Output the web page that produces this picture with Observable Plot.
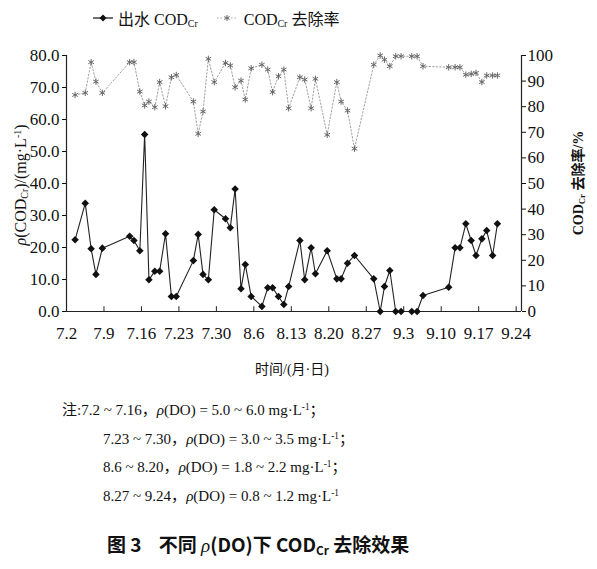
<!DOCTYPE html>
<html>
<head>
<meta charset="utf-8">
<script src="https://cdn.jsdelivr.net/npm/d3@7"></script>
<script src="https://cdn.jsdelivr.net/npm/@observablehq/plot@0.6"></script>
<style>
  html, body { margin: 0; padding: 0; background: #fff; }
  #page { position: relative; width: 597px; height: 569px; overflow: hidden; background: #fff;
          font-family: "Liberation Serif", "Noto Sans CJK SC", serif; color: #111; }
  .abs { position: absolute; white-space: nowrap; }
  sub { font-size: 0.62em; vertical-align: -0.25em; line-height: 0; }
  sup { font-size: 0.62em; vertical-align: 0.5em; line-height: 0; }
  .rot { transform: translate(-50%, -50%) rotate(-90deg); }
  #chart { position: absolute; left: 0; top: 40px; }
  #chart svg text { font-family: "Liberation Serif", serif !important; }
</style>
</head>
<body>
<div id="page">
  <div class="abs" id="legend" style="left:92px; top:6px; font-size:16px; display:flex; align-items:center;">
    <svg width="22" height="12" style="margin-right:4px"><line x1="1" y1="6" x2="21" y2="6" stroke="#222" stroke-width="1.3"/><path d="M11,2.5 L14.5,6 L11,9.5 L7.5,6 Z" fill="#111"/></svg>
    <span>出水 COD<sub>Cr</sub></span>
    <svg width="22" height="12" style="margin-left:18px;margin-right:6px"><line x1="1" y1="6" x2="21" y2="6" stroke="#aaa" stroke-width="1" stroke-dasharray="1.5,2"/><g stroke="#666" stroke-width="1"><line x1="11" y1="3" x2="11" y2="9"/><line x1="8.4" y1="4.5" x2="13.6" y2="7.5"/><line x1="8.4" y1="7.5" x2="13.6" y2="4.5"/></g></svg>
    <span>COD<sub>Cr</sub> 去除率</span>
  </div>
  <div id="chart"></div>
  <div class="abs rot" style="left:21px; top:185px; font-size:16px;"><i>ρ</i>(COD<sub>Cr</sub>)/(mg·L<sup>-1</sup>)</div>
  <div class="abs rot" style="left:577px; top:183px; font-size:14px; font-weight:bold;">COD<sub>Cr</sub> 去除率/%</div>
  <div class="abs" style="left:292px; top:368px; transform:translate(-50%,-50%); font-size:14px;">时间/(月·日)</div>
  <div class="abs" style="left:62px; top:396px; font-size:15px; line-height:28.5px;">
    <div>注:7.2 ~ 7.16，<i>ρ</i>(DO) = 5.0 ~ 6.0 mg·L<sup>-1</sup>；</div>
    <div style="padding-left:41px">7.23 ~ 7.30，<i>ρ</i>(DO) = 3.0 ~ 3.5 mg·L<sup>-1</sup>；</div>
    <div style="padding-left:41px">8.6 ~ 8.20，<i>ρ</i>(DO) = 1.8 ~ 2.2 mg·L<sup>-1</sup>；</div>
    <div style="padding-left:41px">8.27 ~ 9.24，<i>ρ</i>(DO) = 0.8 ~ 1.2 mg·L<sup>-1</sup></div>
  </div>
  <div class="abs" style="left:107px; top:530px; font-size:19px; font-weight:bold; font-family:'Noto Sans CJK SC', 'Noto Sans', sans-serif;">图 3&nbsp;&nbsp;&nbsp;&nbsp;不同 <i style="font-family:'Liberation Serif',serif;font-weight:normal">ρ</i>(DO)下 COD<sub>Cr</sub> 去除效果</div>
</div>
<script>
// Day offsets from 7.2 (sampling days)
const days = [1.6, 3.5, 4.6, 5.5, 6.7, 11.8, 12.6, 13.7, 14.6, 15.4,
              16.5, 17.4, 18.5, 19.6, 20.5, 23.7, 24.6, 25.5, 26.5, 27.6,
              29.7, 30.6, 31.5, 32.6, 33.4, 34.5, 36.5, 37.6, 38.5, 39.6,
              40.6, 41.5, 43.6, 44.5, 45.7, 46.5, 48.7, 50.5, 51.3, 52.5,
              53.8, 57.4, 58.6, 59.4, 60.4, 61.5, 62.5, 64.5, 65.5, 66.6,
              71.4, 72.6, 73.5, 74.6, 75.6, 76.5, 77.6, 78.5, 79.6, 80.5];
// Effluent COD (mg/L)
const effluentCOD = [22.4, 33.8, 19.6, 11.6, 19.8, 23.5, 22.2, 19.0, 55.3, 9.9,
                     12.6, 12.6, 24.3, 4.7, 4.7, 15.9, 24.1, 11.6, 9.9, 31.8,
                     29.0, 26.2, 38.3, 7.1, 14.7, 4.7, 1.6, 7.4, 7.4, 4.7,
                     2.2, 7.8, 22.2, 9.9, 19.9, 11.8, 19.0, 10.2, 10.2, 15.1,
                     17.5, 10.2, 0.0, 7.8, 12.8, 0.0, 0.0, 0.0, 0.0, 5.0,
                     7.6, 19.9, 19.9, 27.4, 22.2, 17.5, 22.7, 25.3, 17.5, 27.4];
// COD removal rate (%)
const removalRate = [84.6, 85.4, 97.4, 89.8, 85.4, 97.4, 97.4, 85.9, 80.5, 82.0,
                     79.8, 89.6, 80.2, 91.5, 92.4, 82.0, 69.4, 78.1, 98.7, 89.6,
                     97.1, 96.1, 87.6, 90.2, 82.8, 95.0, 96.4, 94.5, 85.7, 91.9,
                     94.5, 79.4, 91.5, 90.6, 79.4, 90.9, 69.0, 89.6, 82.0, 78.5,
                     63.6, 96.4, 100.0, 98.4, 95.8, 99.7, 99.7, 99.7, 99.7, 95.8,
                     95.4, 95.4, 95.4, 92.5, 92.8, 93.2, 89.6, 92.2, 92.2, 92.2];
const xTickDays = [0, 7, 14, 21, 28, 35, 42, 49, 56, 63, 70, 77, 84];
const xTickLabels = ["7.2", "7.9", "7.16", "7.23", "7.30", "8.6", "8.13", "8.20", "8.27", "9.3", "9.10", "9.17", "9.24"];
const leftTicks = [0, 10, 20, 30, 40, 50, 60, 70, 80];
const rightTicks = [0, 10, 20, 30, 40, 50, 60, 70, 80, 90, 100];
const xDomain = [0, 85];
const leftMax = 80, rightMax = 100;
const k = leftMax / rightMax;
const serif = "Liberation Serif";

const rows = days.map((d, i) => ({day: d, cod: effluentCOD[i], rate: removalRate[i]}));

const chart = Plot.plot({
  width: 597,
  height: 345,
  marginLeft: 66,
  marginRight: 76,
  marginTop: 15,
  marginBottom: 74,
  style: {fontFamily: serif, fontSize: "17px", color: "#111", background: "transparent", overflow: "visible"},
  x: {domain: xDomain},
  y: {domain: [0, leftMax]},
  marks: [
    Plot.ruleY([0], {stroke: "#222", strokeWidth: 1.2}),
    Plot.ruleX(xDomain, {stroke: "#222", strokeWidth: 1.2}),
    Plot.ruleX(xTickDays, {y1: 0, y2: 1.5, stroke: "#222", strokeWidth: 1}),
    Plot.axisX({ticks: xTickDays, tickFormat: d => xTickLabels[xTickDays.indexOf(d)], tickSize: 0, tickPadding: 15, label: null, fontSize: 17}),
    Plot.axisY({anchor: "left", ticks: leftTicks, tickFormat: d3.format(".1f"), tickSize: 4, tickPadding: 3, label: null, fontSize: 17}),
    Plot.axisY({anchor: "right", ticks: rightTicks.map(v => v * k), tickFormat: d => String(Math.round(d / k)), tickSize: 4, tickPadding: 2, label: null, fontSize: 17}),
    Plot.line(rows, {x: "day", y: d => d.rate * k, stroke: "#a0a0a0", strokeWidth: 1, strokeDasharray: "1.5,2"}),
    Plot.dot(rows, {x: "day", y: d => d.rate * k, symbol: "asterisk", r: 3, stroke: "#666", strokeWidth: 1}),
    Plot.line(rows, {x: "day", y: "cod", stroke: "#222", strokeWidth: 1.1}),
    Plot.dot(rows, {x: "day", y: "cod", symbol: "diamond2", r: 3.4, fill: "#111", stroke: "none"})
  ]
});
d3.select(chart).selectAll("text").style("font-family", "'Liberation Serif', serif");
document.getElementById("chart").appendChild(chart);
</script>
</body>
</html>
